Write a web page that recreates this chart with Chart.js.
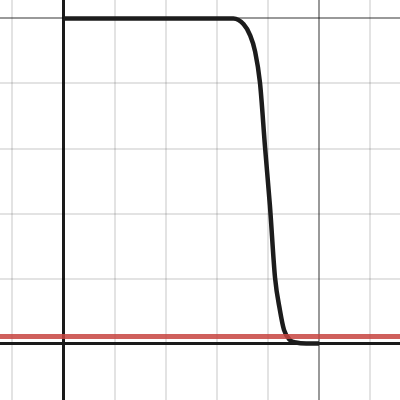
<!DOCTYPE html>
<html>
<head>
<meta charset="utf-8">
<script src="https://cdn.jsdelivr.net/npm/chart.js@4"></script>
<style>
  html, body { margin: 0; padding: 0; background: #fff; }
  #wrap { width: 400px; height: 400px; }
</style>
</head>
<body>
<div id="wrap"><canvas id="graph"></canvas></div>
<script>
// curve
const curveX = [0, 0.3, 0.6, 0.665, 0.705, 0.73, 0.75, 0.769, 0.789, 0.808, 0.828, 0.847, 0.863, 0.886, 0.91, 0.95, 1];
const curveY = [1, 1, 1, 1, 0.982, 0.949, 0.898, 0.802, 0.602, 0.423, 0.202, 0.103, 0.042, 0.011, 0.003, 0, 0];

// horizontal red line
const redLevel = 0.0215;

// grid positions
const xGrid = [-0.2, 0, 0.2, 0.4, 0.6, 0.8, 1, 1.2];
const yGrid = [0, 0.2, 0.4, 0.6, 0.8, 1];

const xMin = -0.2485, xMax = 1.317;
const yMin = -0.1738, yMax = 1.0569;

const gridColor = (ctx) => {
    const v = ctx.tick.value;
    if (Math.abs(v) < 1e-9) return '#1a1a1a';
    if (Math.abs(v - 1) < 1e-9) return 'rgba(0,0,0,0.4)';
    return 'rgba(0,0,0,0.11)';
};
const gridWidth = (ctx) => Math.abs(ctx.tick.value) < 1e-9 ? 3 : 2;

const axisOpts = (min, max, ticksArr) => ({
    type: 'linear',
    min: min,
    max: max,
    border: { display: false },
    ticks: { display: false },
    afterBuildTicks: (scale) => {
        scale.ticks = ticksArr.map(v => ({ value: v }));
    },
    grid: {
        color: gridColor,
        lineWidth: gridWidth,
        drawTicks: false
    }
});

new Chart(document.querySelector('#graph'), {
    type: 'scatter',
    data: {
        datasets: [{
            data: [{ x: xMin, y: redLevel }, { x: xMax, y: redLevel }],
            showLine: true,
            borderColor: 'rgba(199,68,64,0.85)',
            borderWidth: 5,
            pointRadius: 0,
            order: 0
        }, {
            data: curveX.map((x, i) => ({ x: x, y: curveY[i] })),
            showLine: true,
            borderColor: '#1c1c1c',
            borderWidth: 4.5,
            pointRadius: 0,
            cubicInterpolationMode: 'monotone',
            order: 1
        }]
    },
    options: {
        responsive: true,
        maintainAspectRatio: false,
        animation: false,
        layout: { padding: 0 },
        plugins: { legend: { display: false }, tooltip: { enabled: false } },
        scales: {
            x: axisOpts(xMin, xMax, xGrid),
            y: axisOpts(yMin, yMax, yGrid)
        }
    }
});
</script>
</body>
</html>
